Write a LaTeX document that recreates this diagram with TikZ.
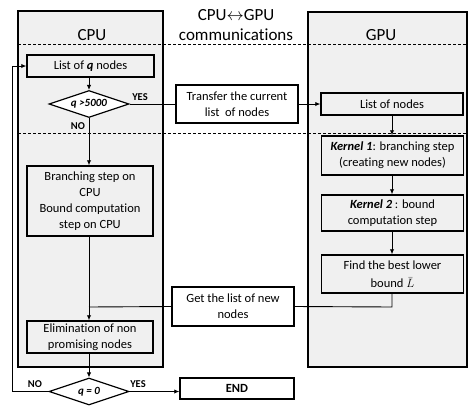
\documentclass[tikz,border=0pt]{standalone}
\usepackage{fontspec}
\setmainfont{Carlito}[Ligatures=NoCommon]
\usetikzlibrary{shapes.geometric,arrows.meta}
\definecolor{panelgray}{HTML}{F0F0F0}
\begin{document}
\begin{tikzpicture}[x=1pt,y=-1pt,
  panel/.style={draw,line width=1.7pt,fill=panelgray},
  box/.style={draw,line width=1.5pt,fill=panelgray,align=center,inner sep=1pt,font=\fontsize{12.5}{16}\selectfont},
  wbox/.style={box,fill=white},
  dec/.style={diamond,draw,line width=1.2pt,fill=white,inner sep=0pt,aspect=3,minimum width=80pt,minimum height=27pt,font=\fontsize{11}{12}\selectfont\bfseries\itshape},
  lbl/.style={font=\fontsize{10.5}{12}\selectfont\bfseries,inner sep=0pt},
  title/.style={font=\fontsize{17}{20}\selectfont,inner sep=0pt},
  arr/.style={line width=0.9pt,-{Latex[length=5pt,width=4.5pt]}},
  ln/.style={line width=0.9pt},
  dsh/.style={dashed,line width=0.7pt,dash pattern=on 3pt off 2pt}]
\useasboundingbox (0,0) rectangle (472,408);
\fill[white] (0,0) rectangle (472,408);
% panels
\draw[panel] (18,11) rectangle (163,367);
\draw[panel] (308,12) rectangle (467,367);
\draw[dsh] (18,44) -- (467,44);
\draw[dsh] (18,133) -- (467,133);
% titles
\node[title] (tcom1) at (236,15) {CPU$\leftrightarrow$GPU};
\node[title] (tcom2) at (236,35) {communications};
\node[title] (tcpu) at (92,35) {CPU};
\node[title] (tgpu) at (381,35) {GPU};
% nodes
\node[box,minimum width=127pt,minimum height=22pt] (lq) at (90.5,66) {List of \textbf{\textit{q}} nodes};
\node[dec] (d1) at (89,104) {q >5000};
\node[wbox,minimum width=122pt,minimum height=38pt] (tr) at (237,104) {Transfer the current\\list\ \ of nodes};
\node[box,minimum width=142pt,minimum height=22pt] (lnodes) at (392,104) {List of nodes};
\node[box,minimum width=142pt,minimum height=39pt] (k1) at (392.5,155.5) {\textbf{\textit{Kernel 1}}: branching step\\(creating new nodes)};
\node[box,minimum width=142pt,minimum height=36pt] (k2) at (392.5,213) {\textbf{\textit{Kernel 2}} : bound\\computation step};
\node[box,minimum width=142pt,minimum height=38pt,font=\fontsize{12.5}{18}\selectfont] (fb) at (392.5,274) {Find the best lower\\bound $\bar{L}$};
\node[wbox,minimum width=122pt,minimum height=39pt] (gb) at (233,306.5) {Get the list of new\\nodes};
\node[box,minimum width=126pt,minimum height=70pt] (br) at (90,201) {Branching step on\\CPU\\Bound computation\\step on CPU};
\node[box,minimum width=126pt,minimum height=32pt] (el) at (90,337) {Elimination of non\\promising nodes};
\node[dec] (d2) at (89,391.5) {q = 0};
\node[wbox,minimum width=114pt,minimum height=21pt,font=\fontsize{12.5}{14}\selectfont\bfseries] (endn) at (237,388.5) {END};
% labels
\node[lbl] (y1) at (140,97) {YES};
\node[lbl] (n1) at (78,126) {NO};
\node[lbl] (n2) at (35,384) {NO};
\node[lbl] (y2) at (138,384) {YES};
% coordinates
\coordinate (c1) at (392,307);
\coordinate (c2) at (89,307);
\coordinate (c3) at (12,391.5);
\coordinate (c4) at (12,66);
% connectors
\draw[arr] (lq.south -| d1) -- (d1.north);
\draw[arr] (d1.south) -- (br.north -| d1);
\draw[ln] (d1.east) -- (tr.west);
\draw[arr] (tr.east) -- (lnodes.west);
\draw[arr] (lnodes.south) -- (k1.north -| lnodes);
\draw[arr] (k1.south -| lnodes) -- (k2.north -| lnodes);
\draw[arr] (k2.south -| lnodes) -- (fb.north -| lnodes);
\draw[ln] (fb.south -| lnodes) -- (c1) -- (gb.east);
\draw[ln] (gb.west) -- (c2);
\draw[arr] (br.south -| d1) -- (el.north -| d1);
\draw[arr] (el.south -| d2) -- (d2.north);
\draw[arr] (d2.east) -- (endn.west |- d2);
\draw[arr] (d2.west) -- (c3) -- (c4) -- (lq.west);
\end{tikzpicture}
\end{document}
